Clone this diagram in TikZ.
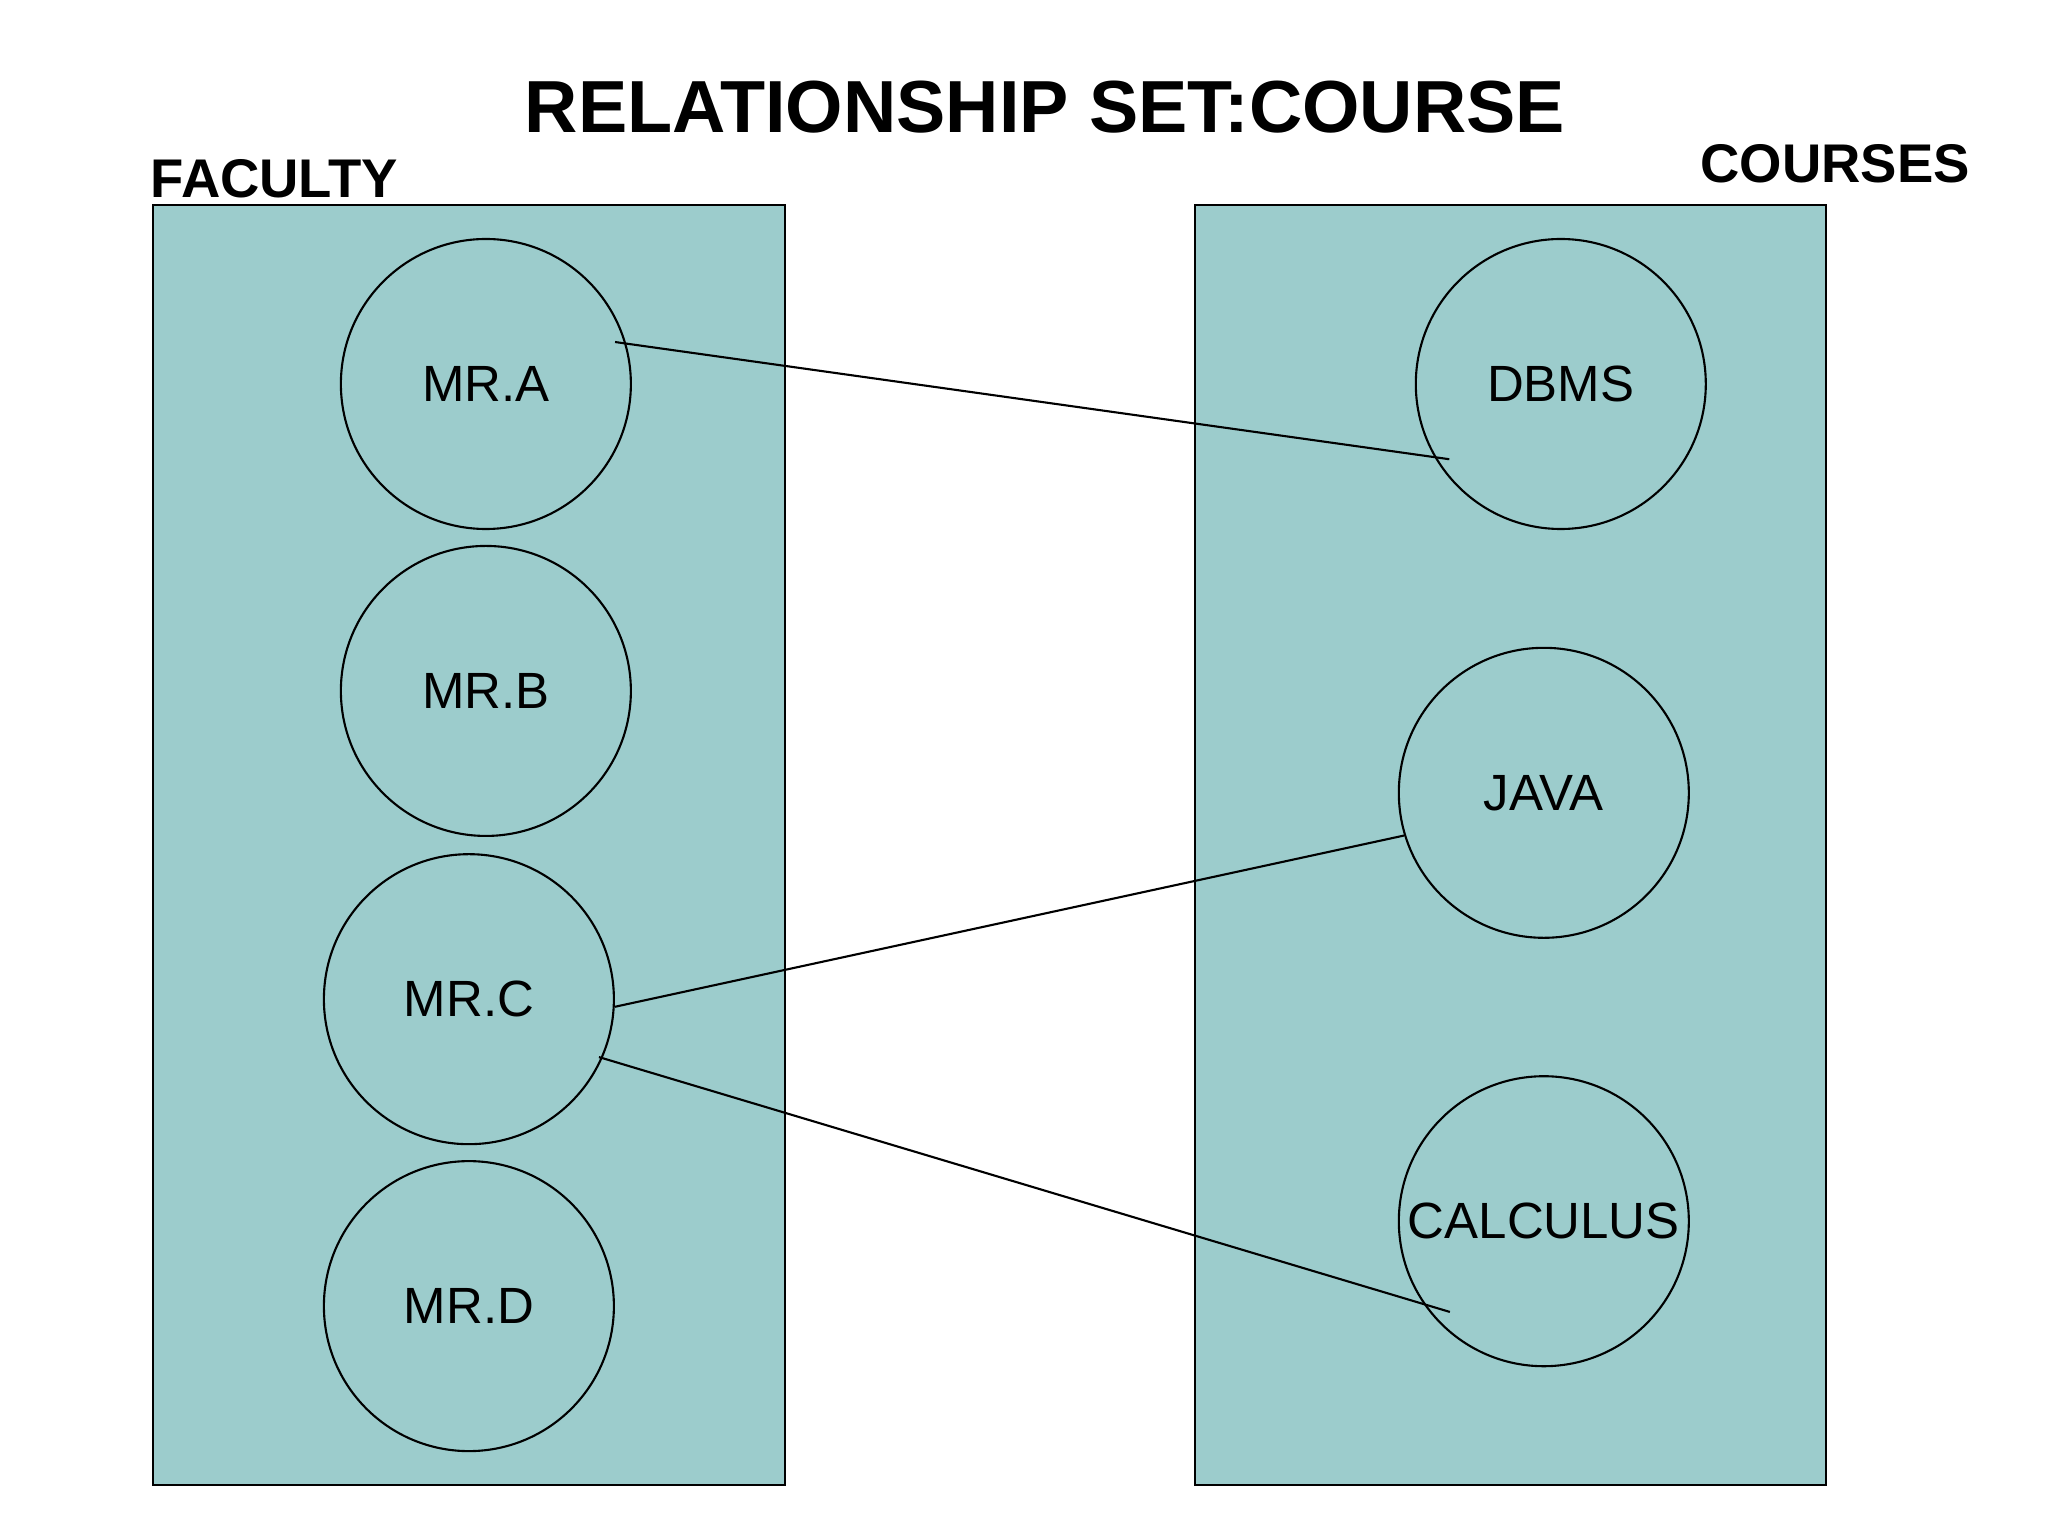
\documentclass[tikz,border=0pt]{standalone}
\usepackage{fontspec}
\setmainfont{Liberation Sans}
\usetikzlibrary{calc}
\begin{document}
\begin{tikzpicture}[x=0.01306cm,y=-0.01306cm,
  box/.style={draw=black,fill=setfill,line width=0.6pt},
  ent/.style={circle,draw=black,line width=0.6pt,minimum size=2.9cm,inner sep=0pt,font=\fontsize{14.5}{16}\selectfont},
  link/.style={draw=black,line width=0.6pt},
  hdr/.style={font=\bfseries\fontsize{15.5}{18}\selectfont}]
\definecolor{setfill}{HTML}{9CCCCC}
\useasboundingbox (0,0) rectangle (1568,1176);
\node[font=\bfseries\fontsize{21}{24}\selectfont] (title) at (800,82) {RELATIONSHIP SET:COURSE};
\node[hdr] (fac) at (210,137) {FACULTY};
\node[hdr] (crs) at (1405,125) {COURSES};
\path[box] (117,157) rectangle (601,1137);
\path[box] (915,157) rectangle (1398,1137);
\node[ent] (A) at (372,294) {MR.A};
\node[ent] (B) at (372,529) {MR.B};
\node[ent] (C) at (359,765) {MR.C};
\node[ent] (D) at (359,1000) {MR.D};
\node[ent] (DB) at (1195,294) {DBMS};
\node[ent] (JA) at (1182,607) {JAVA};
\node[ent] (CA) at (1182,935) {CALCULUS};
\draw[link] ($(A.center)+(-18:104)$) -- ($(DB.center)+(146:103)$);
\draw[link] (C.-3) -- (JA.197);
\draw[link] ($(C.center)+(24:109)$) -- ($(CA.center)+(136:100)$);
\end{tikzpicture}
\end{document}
